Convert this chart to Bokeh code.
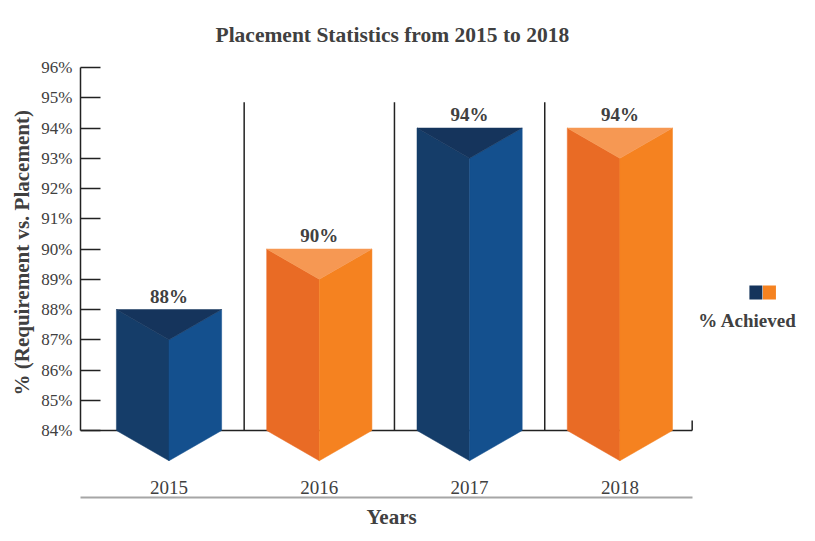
from bokeh.plotting import figure
from bokeh.models import Range1d, FixedTicker, PrintfTickFormatter, ColumnDataSource, Title
from bokeh.core.properties import value
from bokeh.embed import file_html
from bokeh.resources import INLINE

# ---- data ----
years = ["2015", "2016", "2017", "2018"]
achieved = [88, 90, 94, 94]
y_ticks = [84, 85, 86, 87, 88, 89, 90, 91, 92, 93, 94, 95, 96]
legend_label = "% Achieved"
title_text = "Placement Statistics from 2015 to 2018"
y_label = "% (Requirement vs. Placement)"
x_label = "Years"

# ---- styles ----
BLUE = ("#153d69", "#14508e", "#15345c")     # left, right, top
ORANGE = ("#e96b25", "#f58220", "#f69853")
colors = [BLUE, ORANGE, BLUE, ORANGE]
TXT = "#404040"
FONT = "Liberation Serif"

base = y_ticks[0]
half_w = 0.35
depth = 1.0

x_start, x_end = -0.589, 4.235
y_start, y_end = 81.785, 96.397
x_axis_end = 3.481

p = figure(width=815, height=541, output_backend="svg", toolbar_location=None,
           x_range=Range1d(x_start, x_end), y_range=Range1d(y_start, y_end),
           min_border_left=80, min_border_right=10, min_border_top=55, min_border_bottom=44)
p.outline_line_color = None
p.xgrid.visible = False
p.ygrid.visible = False

p.title.text = title_text
p.title.text_font = FONT
p.title.text_font_size = "21.5px"
p.title.text_color = TXT
p.title.align = "left"
p.title.offset = 135
p.title.standoff = 17

# y axis
ya = p.yaxis[0]
ya.bounds = (y_ticks[0], y_ticks[-1])
ya.ticker = FixedTicker(ticks=y_ticks)
ya.formatter = PrintfTickFormatter(format="%d%%")
ya.major_tick_in = 20
ya.major_tick_out = 0
ya.minor_tick_line_color = None
ya.axis_line_color = "#222222"
ya.axis_line_width = 1.5
ya.major_tick_line_color = "#222222"
ya.major_tick_line_width = 1.5
ya.major_label_text_font = FONT
ya.major_label_text_font_size = "17px"
ya.major_label_text_color = TXT
ya.major_label_standoff = 8

# x axis
xa = p.xaxis[0]
xa.bounds = (x_start, x_axis_end)
xa.ticker = FixedTicker(ticks=[])
xa.major_tick_line_color = None
xa.minor_tick_line_color = None
xa.axis_line_color = "#a6a6a6"
xa.axis_line_width = 2

# axis titles as side titles
p.add_layout(Title(text=x_label, align="left", offset=286, text_font=FONT,
                   text_font_size="21px", text_font_style="bold", text_color=TXT), "below")
p.add_layout(Title(text=y_label, align="left", offset=102, text_font=FONT,
                   text_font_size="21px", text_font_style="bold", text_color=TXT), "left")

# baseline and separators
idx = list(range(len(years)))
p.segment(x0=[x_start], y0=[base], x1=[x_axis_end], y1=[base], line_color="#222222", line_width=1.5)
p.segment(x0=[x_axis_end], y0=[base], x1=[x_axis_end], y1=[base + 0.33], line_color="#222222", line_width=1.5)
seps = [i + 0.5 for i in idx[:-1]]
p.segment(x0=seps, y0=[base] * len(seps), x1=seps, y1=[94.85] * len(seps),
          line_color="#222222", line_width=1.5)

# prism bars
lx, ly, rx, ry, tx, ty = [], [], [], [], [], []
lc, rc, tc = [], [], []
for i, v in zip(idx, achieved):
    lx.append([i - half_w, i, i, i - half_w])
    ly.append([v, v - depth, base - depth, base])
    rx.append([i, i + half_w, i + half_w, i])
    ry.append([v - depth, v, base, base - depth])
    tx.append([i - half_w, i + half_w, i])
    ty.append([v, v, v - depth])
    lc.append(colors[i][0]); rc.append(colors[i][1]); tc.append(colors[i][2])

p.patches(xs=lx, ys=ly, fill_color=lc, line_color=lc, line_width=0.5)
p.patches(xs=rx, ys=ry, fill_color=rc, line_color=rc, line_width=0.5)
p.patches(xs=tx, ys=ty, fill_color=tc, line_color=tc, line_width=0.5)

# value labels
src = ColumnDataSource(dict(x=idx, y=achieved, t=[f"{v}%" for v in achieved]))
p.text(x="x", y="y", text="t", source=src, text_align="center", text_baseline="bottom",
       y_offset=-3, text_font=value(FONT), text_font_size="19px", text_font_style="bold",
       text_color=TXT)

# year labels
p.text(x=idx, y=[82.116] * len(idx), text=years, text_align="center", text_baseline="middle",
       text_font=value(FONT), text_font_size="19px", text_color=TXT)

# legend
p.rect(x=[3.905], y=[88.56], width=13, height=14, width_units="screen", height_units="screen",
       fill_color=BLUE[2], line_color=None)
p.rect(x=[3.995], y=[88.56], width=13, height=14, width_units="screen", height_units="screen",
       fill_color=ORANGE[1], line_color=None)
p.text(x=[3.849], y=[87.64], text=[legend_label], text_align="center", text_baseline="middle",
       text_font=value(FONT), text_font_size="19px", text_font_style="bold", text_color=TXT)

open("out.html", "w").write(file_html(p, INLINE))
